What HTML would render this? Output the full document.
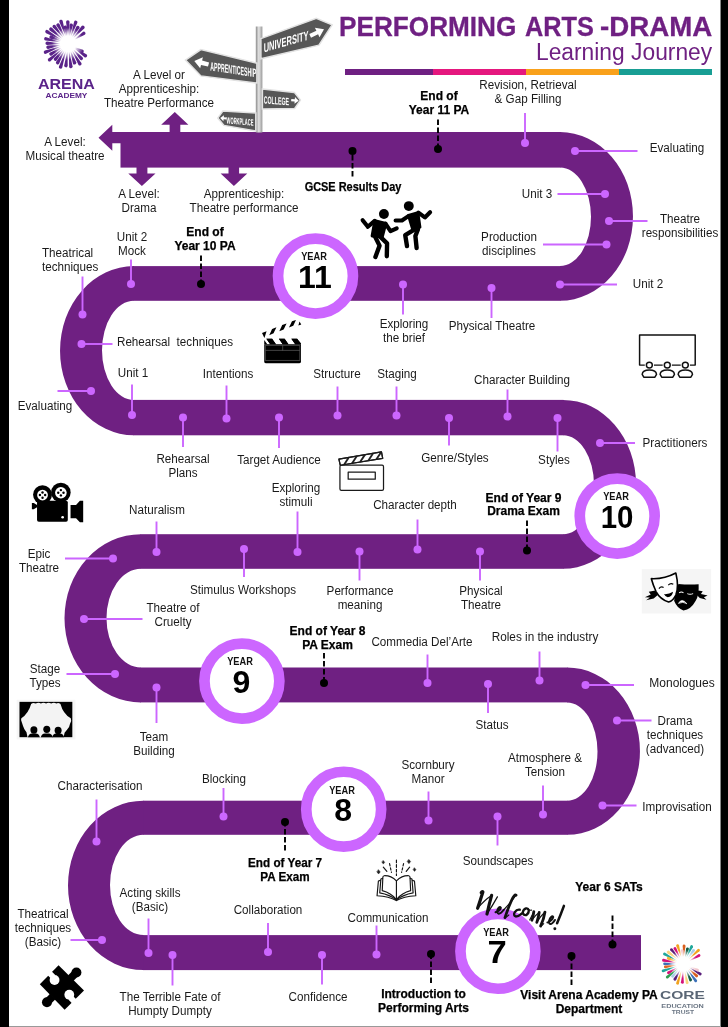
<!DOCTYPE html>
<html><head><meta charset="utf-8"><title>Performing Arts - Drama Learning Journey</title>
<style>
html,body{margin:0;padding:0;background:#fff;}
body{width:728px;height:1027px;position:relative;overflow:hidden;will-change:transform;font-family:"Liberation Sans",sans-serif;}
#lb{position:absolute;left:0;top:0;width:9px;height:1027px;background:#000;}
#rb{position:absolute;left:721px;top:0;width:7px;height:1027px;background:#000;}
#rbg{position:absolute;left:720px;top:0;width:1px;height:1027px;background:#888;}
#bb{position:absolute;left:9px;top:1025.5px;width:712px;height:1.5px;background:#999;}
svg#main{position:absolute;left:0;top:0;}
.l{position:absolute;width:200px;text-align:center;font-size:12px;line-height:14px;color:#1a1a1a;white-space:nowrap;transform:scaleX(0.972);}
.l.b{font-weight:bold;font-size:12px;line-height:13.9px;color:#000;transform:scaleX(1.0);-webkit-text-stroke:0.25px #000;}
.yr{position:absolute;width:80px;text-align:center;font-weight:bold;font-size:10.5px;line-height:12px;color:#111;transform:scaleX(0.88);}
.yn{position:absolute;width:80px;text-align:center;font-weight:bold;font-size:32px;line-height:30px;color:#000;transform:scaleX(1.02);}
.t1{position:absolute;top:11.2px;font-weight:bold;font-size:27.5px;line-height:32px;color:#6F2082;white-space:nowrap;transform-origin:0 0;-webkit-text-stroke:0.3px #6F2082;}
#t2{position:absolute;left:536.1px;top:37.6px;font-size:23.5px;line-height:28px;color:#6F2082;white-space:nowrap;transform-origin:0 0;transform:scaleX(0.970);}
.bar{position:absolute;top:69.3px;height:5.9px;}
</style></head><body>
<div id="lb"></div><div id="rbg"></div><div id="rb"></div><div id="bb"></div>
<div class="t1" style="left:338.5px;transform:scaleX(0.9514)">PERFORMING</div><div class="t1" style="left:525px;transform:scaleX(0.92)">ARTS</div><div class="t1" style="left:600.2px;transform:scaleX(1.007)">-DRAMA</div>
<div id="t2">Learning Journey</div>
<div class="bar" style="left:345px;width:88px;background:#6F2082"></div>
<div class="bar" style="left:433px;width:92.7px;background:#E5177E"></div>
<div class="bar" style="left:525.7px;width:93.3px;background:#F9A11B"></div>
<div class="bar" style="left:619px;width:92.5px;background:#189E94"></div>
<svg id="main" width="728" height="1027" viewBox="0 0 728 1027">
<!--ICONS_BELOW-->
<g fill="#6F2082"><rect x="120.5" y="132" width="440" height="35.599999999999994"/><rect x="133.5" y="266.1" width="427" height="34.69999999999999"/><rect x="133.5" y="399.9" width="430" height="35.400000000000034"/><rect x="140.5" y="534.2" width="423" height="34.59999999999991"/><rect x="140.5" y="667.5" width="427" height="34.89999999999998"/><rect x="143.0" y="800.7" width="424.5" height="34.09999999999991"/><rect x="143.0" y="935.1" width="498.0" height="35.0"/><path d="M560,132 A73,84.4 0 0 1 560,300.8 L560,266.1 A31,49.250000000000014 0 0 0 560,167.6 Z"/><path d="M134,266.1 A74,84.6 0 0 0 134,435.3 L134,399.9 A32,49.54999999999998 0 0 1 134,300.8 Z"/><path d="M563,399.9 A73,84.44999999999999 0 0 1 563,568.8 L563,534.2 A31,49.45000000000002 0 0 0 563,435.3 Z"/><path d="M141,534.2 A76.5,84.09999999999997 0 0 0 141,702.4 L141,667.5 A34.5,49.35000000000002 0 0 1 141,568.8 Z"/><path d="M567,667.5 A73,83.64999999999998 0 0 1 567,834.8 L567,800.7 A30.5,49.150000000000034 0 0 0 567,702.4 Z"/><path d="M143.5,800.7 A75.5,84.69999999999999 0 0 0 143.5,970.1 L143.5,935.1 A33.5,50.150000000000034 0 0 1 143.5,834.8 Z"/><polygon points="98.5,137.7 112.3,124.7 112.3,132 121,132 121,143.3 112.3,143.3 112.3,150.7"/><polygon points="174.8,112 188.4,124.7 180.3,124.7 180.3,133 169.6,133 169.6,124.7 161.2,124.7"/><polygon points="141.9,186 155.5,173.4 147.4,173.4 147.4,166 136.5,166 136.5,173.4 128.3,173.4"/><polygon points="233.9,186 247.3,173.4 239.1,173.4 239.1,166 228.5,166 228.5,173.4 220.6,173.4"/></g>
<line x1="352.5" y1="176.5" x2="352.5" y2="151.0" stroke="#000" stroke-width="1.9" stroke-dasharray="5.5 2.5"/><circle cx="352.5" cy="151.0" r="4" fill="#000"/><line x1="438" y1="119.5" x2="438" y2="149.0" stroke="#000" stroke-width="1.9" stroke-dasharray="5.5 2.5"/><circle cx="438" cy="149.0" r="4" fill="#000"/><line x1="525" y1="143.0" x2="525" y2="113.0" stroke="#CC66FF" stroke-width="1.9"/><circle cx="525" cy="143.0" r="4" fill="#CC66FF"/><line x1="575" y1="151.0" x2="637.5" y2="151.0" stroke="#CC66FF" stroke-width="1.9"/><circle cx="575" cy="151.0" r="4" fill="#CC66FF"/><line x1="605" y1="194.0" x2="557.5" y2="194.0" stroke="#CC66FF" stroke-width="1.9"/><circle cx="605" cy="194.0" r="4" fill="#CC66FF"/><line x1="609" y1="221.0" x2="647.5" y2="221.0" stroke="#CC66FF" stroke-width="1.9"/><circle cx="609" cy="221.0" r="4" fill="#CC66FF"/><line x1="606.5" y1="244.5" x2="543" y2="244.5" stroke="#CC66FF" stroke-width="1.9"/><circle cx="606.5" cy="244.5" r="4" fill="#CC66FF"/><line x1="560" y1="284.5" x2="617" y2="284.5" stroke="#CC66FF" stroke-width="1.9"/><circle cx="560" cy="284.5" r="4" fill="#CC66FF"/><line x1="491.5" y1="288.0" x2="491.5" y2="318.0" stroke="#CC66FF" stroke-width="1.9"/><circle cx="491.5" cy="288.0" r="4" fill="#CC66FF"/><line x1="403" y1="284.5" x2="403" y2="314.5" stroke="#CC66FF" stroke-width="1.9"/><circle cx="403" cy="284.5" r="4" fill="#CC66FF"/><line x1="201" y1="255.5" x2="201" y2="284.0" stroke="#000" stroke-width="1.9" stroke-dasharray="5.5 2.5"/><circle cx="201" cy="284.0" r="4" fill="#000"/><line x1="131" y1="284.0" x2="131" y2="259.5" stroke="#CC66FF" stroke-width="1.9"/><circle cx="131" cy="284.0" r="4" fill="#CC66FF"/><line x1="82.5" y1="314.5" x2="82.5" y2="276.5" stroke="#CC66FF" stroke-width="1.9"/><circle cx="82.5" cy="314.5" r="4" fill="#CC66FF"/><line x1="81.5" y1="344.0" x2="112.5" y2="344.0" stroke="#CC66FF" stroke-width="1.9"/><circle cx="81.5" cy="344.0" r="4" fill="#CC66FF"/><line x1="91" y1="391.0" x2="57.5" y2="391.0" stroke="#CC66FF" stroke-width="1.9"/><circle cx="91" cy="391.0" r="4" fill="#CC66FF"/><line x1="132" y1="415.0" x2="132" y2="384.5" stroke="#CC66FF" stroke-width="1.9"/><circle cx="132" cy="415.0" r="4" fill="#CC66FF"/><line x1="183" y1="417.5" x2="183" y2="447.0" stroke="#CC66FF" stroke-width="1.9"/><circle cx="183" cy="417.5" r="4" fill="#CC66FF"/><line x1="226.5" y1="418.5" x2="226.5" y2="385.5" stroke="#CC66FF" stroke-width="1.9"/><circle cx="226.5" cy="418.5" r="4" fill="#CC66FF"/><line x1="279" y1="417.5" x2="279" y2="448.0" stroke="#CC66FF" stroke-width="1.9"/><circle cx="279" cy="417.5" r="4" fill="#CC66FF"/><line x1="337.5" y1="415.5" x2="337.5" y2="386.5" stroke="#CC66FF" stroke-width="1.9"/><circle cx="337.5" cy="415.5" r="4" fill="#CC66FF"/><line x1="396.5" y1="415.5" x2="396.5" y2="386.5" stroke="#CC66FF" stroke-width="1.9"/><circle cx="396.5" cy="415.5" r="4" fill="#CC66FF"/><line x1="449" y1="418.0" x2="449" y2="445.5" stroke="#CC66FF" stroke-width="1.9"/><circle cx="449" cy="418.0" r="4" fill="#CC66FF"/><line x1="507.5" y1="416.5" x2="507.5" y2="389.5" stroke="#CC66FF" stroke-width="1.9"/><circle cx="507.5" cy="416.5" r="4" fill="#CC66FF"/><line x1="557.5" y1="418.0" x2="557.5" y2="451.5" stroke="#CC66FF" stroke-width="1.9"/><circle cx="557.5" cy="418.0" r="4" fill="#CC66FF"/><line x1="600" y1="443.0" x2="635" y2="443.0" stroke="#CC66FF" stroke-width="1.9"/><circle cx="600" cy="443.0" r="4" fill="#CC66FF"/><line x1="527" y1="520.5" x2="527" y2="550.5" stroke="#000" stroke-width="1.9" stroke-dasharray="5.5 2.5"/><circle cx="527" cy="550.5" r="4" fill="#000"/><line x1="480" y1="551.5" x2="480" y2="580.5" stroke="#CC66FF" stroke-width="1.9"/><circle cx="480" cy="551.5" r="4" fill="#CC66FF"/><line x1="417.5" y1="549.5" x2="417.5" y2="519.5" stroke="#CC66FF" stroke-width="1.9"/><circle cx="417.5" cy="549.5" r="4" fill="#CC66FF"/><line x1="359.5" y1="551.5" x2="359.5" y2="580.5" stroke="#CC66FF" stroke-width="1.9"/><circle cx="359.5" cy="551.5" r="4" fill="#CC66FF"/><line x1="297.5" y1="552.0" x2="297.5" y2="511.5" stroke="#CC66FF" stroke-width="1.9"/><circle cx="297.5" cy="552.0" r="4" fill="#CC66FF"/><line x1="244" y1="549.0" x2="244" y2="577.0" stroke="#CC66FF" stroke-width="1.9"/><circle cx="244" cy="549.0" r="4" fill="#CC66FF"/><line x1="156.5" y1="552.0" x2="156.5" y2="521.5" stroke="#CC66FF" stroke-width="1.9"/><circle cx="156.5" cy="552.0" r="4" fill="#CC66FF"/><line x1="113" y1="558.5" x2="65" y2="558.5" stroke="#CC66FF" stroke-width="1.9"/><circle cx="113" cy="558.5" r="4" fill="#CC66FF"/><line x1="84" y1="619.0" x2="142.5" y2="619.0" stroke="#CC66FF" stroke-width="1.9"/><circle cx="84" cy="619.0" r="4" fill="#CC66FF"/><line x1="115" y1="674.0" x2="66.5" y2="674.0" stroke="#CC66FF" stroke-width="1.9"/><circle cx="115" cy="674.0" r="4" fill="#CC66FF"/><line x1="156.5" y1="687.5" x2="156.5" y2="723.0" stroke="#CC66FF" stroke-width="1.9"/><circle cx="156.5" cy="687.5" r="4" fill="#CC66FF"/><line x1="324" y1="653.0" x2="324" y2="683.0" stroke="#000" stroke-width="1.9" stroke-dasharray="5.5 2.5"/><circle cx="324" cy="683.0" r="4" fill="#000"/><line x1="427.5" y1="683.0" x2="427.5" y2="654.5" stroke="#CC66FF" stroke-width="1.9"/><circle cx="427.5" cy="683.0" r="4" fill="#CC66FF"/><line x1="488" y1="684.0" x2="488" y2="713.0" stroke="#CC66FF" stroke-width="1.9"/><circle cx="488" cy="684.0" r="4" fill="#CC66FF"/><line x1="539.5" y1="680.5" x2="539.5" y2="651.5" stroke="#CC66FF" stroke-width="1.9"/><circle cx="539.5" cy="680.5" r="4" fill="#CC66FF"/><line x1="585.5" y1="685.0" x2="634" y2="685.0" stroke="#CC66FF" stroke-width="1.9"/><circle cx="585.5" cy="685.0" r="4" fill="#CC66FF"/><line x1="617" y1="720.5" x2="651.5" y2="720.5" stroke="#CC66FF" stroke-width="1.9"/><circle cx="617" cy="720.5" r="4" fill="#CC66FF"/><line x1="602.5" y1="805.5" x2="636.5" y2="805.5" stroke="#CC66FF" stroke-width="1.9"/><circle cx="602.5" cy="805.5" r="4" fill="#CC66FF"/><line x1="543" y1="814.5" x2="543" y2="785.5" stroke="#CC66FF" stroke-width="1.9"/><circle cx="543" cy="814.5" r="4" fill="#CC66FF"/><line x1="497.5" y1="816.5" x2="497.5" y2="845.5" stroke="#CC66FF" stroke-width="1.9"/><circle cx="497.5" cy="816.5" r="4" fill="#CC66FF"/><line x1="428.5" y1="820.5" x2="428.5" y2="791.5" stroke="#CC66FF" stroke-width="1.9"/><circle cx="428.5" cy="820.5" r="4" fill="#CC66FF"/><line x1="285" y1="850.5" x2="285" y2="822.0" stroke="#000" stroke-width="1.9" stroke-dasharray="5.5 2.5"/><circle cx="285" cy="822.0" r="4" fill="#000"/><line x1="223.5" y1="816.5" x2="223.5" y2="788.0" stroke="#CC66FF" stroke-width="1.9"/><circle cx="223.5" cy="816.5" r="4" fill="#CC66FF"/><line x1="96.5" y1="841.5" x2="96.5" y2="799.5" stroke="#CC66FF" stroke-width="1.9"/><circle cx="96.5" cy="841.5" r="4" fill="#CC66FF"/><line x1="102" y1="940.0" x2="70.5" y2="940.0" stroke="#CC66FF" stroke-width="1.9"/><circle cx="102" cy="940.0" r="4" fill="#CC66FF"/><line x1="148.5" y1="953.0" x2="148.5" y2="918.5" stroke="#CC66FF" stroke-width="1.9"/><circle cx="148.5" cy="953.0" r="4" fill="#CC66FF"/><line x1="172.5" y1="955.0" x2="172.5" y2="985.5" stroke="#CC66FF" stroke-width="1.9"/><circle cx="172.5" cy="955.0" r="4" fill="#CC66FF"/><line x1="268" y1="952.0" x2="268" y2="923.0" stroke="#CC66FF" stroke-width="1.9"/><circle cx="268" cy="952.0" r="4" fill="#CC66FF"/><line x1="322" y1="955.0" x2="322" y2="984.5" stroke="#CC66FF" stroke-width="1.9"/><circle cx="322" cy="955.0" r="4" fill="#CC66FF"/><line x1="376.5" y1="954.5" x2="376.5" y2="925.5" stroke="#CC66FF" stroke-width="1.9"/><circle cx="376.5" cy="954.5" r="4" fill="#CC66FF"/><line x1="431" y1="983.0" x2="431" y2="954.0" stroke="#000" stroke-width="1.9" stroke-dasharray="5.5 2.5"/><circle cx="431" cy="954.0" r="4" fill="#000"/><line x1="571.5" y1="985.0" x2="571.5" y2="956.0" stroke="#000" stroke-width="1.9" stroke-dasharray="5.5 2.5"/><circle cx="571.5" cy="956.0" r="4" fill="#000"/><line x1="612.5" y1="915.5" x2="612.5" y2="944.5" stroke="#000" stroke-width="1.9" stroke-dasharray="5.5 2.5"/><circle cx="612.5" cy="944.5" r="4" fill="#000"/>
<circle cx="315.5" cy="276.1" r="37.45" fill="#fff" stroke="#CC66FF" stroke-width="10.7"/><circle cx="617.2" cy="516.1" r="37.45" fill="#fff" stroke="#CC66FF" stroke-width="10.7"/><circle cx="241.9" cy="681.1" r="37.45" fill="#fff" stroke="#CC66FF" stroke-width="10.7"/><circle cx="343.7" cy="809.2" r="37.45" fill="#fff" stroke="#CC66FF" stroke-width="10.7"/><circle cx="497.9" cy="951.3" r="37.45" fill="#fff" stroke="#CC66FF" stroke-width="10.7"/>
<!--ICONS_ABOVE-->
<defs><linearGradient id="pole" x1="0" x2="1" y1="0" y2="0"><stop offset="0" stop-color="#8a8a8a"/><stop offset="0.45" stop-color="#e4e4e4"/><stop offset="1" stop-color="#9a9a9a"/></linearGradient></defs>
<g id="signpost">
<rect x="255.8" y="26.5" width="6.6" height="106" fill="url(#pole)"/>
<polygon points="260.9,38.6 316.3,18.4 332.1,24.9 318.9,45.2 260.9,58.8" fill="#575757" stroke="#e2e2e2" stroke-width="1.5"/>
<polygon points="185.5,60.1 200.9,49.6 256.9,63.2 256.9,83.0 200.9,75.9" fill="#575757" stroke="#e2e2e2" stroke-width="1.5"/>
<polygon points="262.4,89.1 294.3,92.4 300.4,100.1 294.7,108.5 262.4,108.9" fill="#575757" stroke="#e2e2e2" stroke-width="1.5"/>
<polygon points="217.8,118.1 222.9,111.1 255.8,112.9 255.8,130.9 224.0,125.4" fill="#575757" stroke="#e2e2e2" stroke-width="1.5"/>
<text transform="translate(263.7,52.4) skewY(-16) scale(0.585,1)" font-family="Liberation Sans, sans-serif" font-weight="bold" font-size="12.8" fill="#fff">UNIVERSITY</text>
<polygon points="311.0,37.7 318.1,34.3 319.5,37.3 324.0,29.3 314.9,27.8 316.4,30.8 309.3,34.1" fill="#fff"/>
<text transform="translate(210.3,70.4) skewY(8.5) scale(0.43,1)" font-family="Liberation Sans, sans-serif" font-weight="bold" font-size="12.2" fill="#fff">APPRENTICESHIP</text>
<polygon points="209.1,62.4 202.1,60.6 202.9,57.2 194.3,61.0 200.2,68.3 201.0,64.9 208.0,66.6" fill="#fff"/>
<text transform="translate(263.7,103.4) skewY(4) scale(0.5,1)" font-family="Liberation Sans, sans-serif" font-weight="bold" font-size="10.5" fill="#fff">COLLEGE</text>
<polygon points="291.1,101.2 294.6,101.5 294.5,103.7 298.7,100.8 295.0,97.1 294.8,99.3 291.3,99.0" fill="#fff"/>
<text transform="translate(226.6,123.4) skewY(5) scale(0.445,1)" font-family="Liberation Sans, sans-serif" font-weight="bold" font-size="9.2" fill="#fff">WORKPLACE</text>
<polygon points="226.7,117.6 223.8,117.3 224.0,115.2 220.2,117.9 223.4,121.3 223.6,119.3 226.5,119.6" fill="#fff"/>
</g>
<defs><radialGradient id="ag" gradientUnits="userSpaceOnUse" cx="68.2" cy="43.8" r="26"><stop offset="0.3" stop-color="#fff" stop-opacity="1"/><stop offset="0.62" stop-color="#fff" stop-opacity="0"/></radialGradient></defs><g><path d="M73.19,40.47 L84.76,34.86 A1.75,1.75 0 0 0 82.82,31.95 Z" fill="#5A2389"/><path d="M72.18,39.31 L84.22,28.40 A1.75,1.75 0 0 0 81.60,26.07 Z" fill="#5A2389"/><path d="M71.25,38.64 L79.37,28.35 A1.75,1.75 0 0 0 76.36,26.57 Z" fill="#5A2389"/><path d="M70.18,38.14 L77.39,22.86 A1.75,1.75 0 0 0 74.09,21.70 Z" fill="#5A2389"/><path d="M69.15,37.88 L72.90,25.49 A1.75,1.75 0 0 0 69.45,24.94 Z" fill="#5A2389"/><path d="M68.10,37.80 L69.57,21.95 A1.75,1.75 0 0 0 66.07,22.01 Z" fill="#5A2389"/><path d="M67.16,37.89 L67.01,26.96 A1.75,1.75 0 0 0 63.56,27.57 Z" fill="#5A2389"/><path d="M66.37,38.09 L62.70,20.93 A1.75,1.75 0 0 0 59.36,22.00 Z" fill="#5A2389"/><path d="M65.35,38.52 L59.59,24.20 A1.75,1.75 0 0 0 56.51,25.86 Z" fill="#5A2389"/><path d="M64.44,39.12 L55.63,25.38 A1.75,1.75 0 0 0 52.90,27.57 Z" fill="#5A2389"/><path d="M63.62,39.92 L52.00,27.77 A1.75,1.75 0 0 0 49.74,30.44 Z" fill="#5A2389"/><path d="M62.99,40.83 L47.85,30.18 A1.75,1.75 0 0 0 46.11,33.22 Z" fill="#5A2389"/><path d="M62.61,41.61 L51.77,35.48 A1.75,1.75 0 0 0 50.49,38.74 Z" fill="#5A2389"/><path d="M62.34,42.51 L46.30,37.19 A1.75,1.75 0 0 0 45.55,40.61 Z" fill="#5A2389"/><path d="M62.20,43.65 L47.23,41.54 A1.75,1.75 0 0 0 47.15,45.04 Z" fill="#5A2389"/><path d="M62.28,44.79 L47.67,45.46 A1.75,1.75 0 0 0 48.24,48.91 Z" fill="#5A2389"/><path d="M62.57,45.86 L44.81,50.50 A1.75,1.75 0 0 0 46.01,53.78 Z" fill="#5A2389"/><path d="M63.02,46.84 L50.10,52.39 A1.75,1.75 0 0 0 51.87,55.41 Z" fill="#5A2389"/><path d="M63.64,47.70 L48.45,58.42 A1.75,1.75 0 0 0 50.73,61.08 Z" fill="#5A2389"/><path d="M64.37,48.42 L54.16,57.97 A1.75,1.75 0 0 0 56.85,60.21 Z" fill="#5A2389"/><path d="M65.27,49.04 L56.14,61.79 A1.75,1.75 0 0 0 59.20,63.49 Z" fill="#5A2389"/><path d="M66.33,49.50 L58.93,66.38 A1.75,1.75 0 0 0 62.26,67.48 Z" fill="#5A2389"/><path d="M67.58,49.77 L64.20,65.49 A1.75,1.75 0 0 0 67.68,65.85 Z" fill="#5A2389"/><path d="M68.90,49.76 L69.12,66.65 A1.75,1.75 0 0 0 72.60,66.24 Z" fill="#5A2389"/><path d="M70.09,49.49 L72.89,63.44 A1.75,1.75 0 0 0 76.21,62.34 Z" fill="#5A2389"/><path d="M71.23,48.98 L78.40,64.72 A1.75,1.75 0 0 0 81.42,62.96 Z" fill="#5A2389"/><path d="M72.21,48.27 L79.95,59.52 A1.75,1.75 0 0 0 82.56,57.18 Z" fill="#5A2389"/><path d="M73.13,47.22 L84.46,57.23 A1.75,1.75 0 0 0 86.45,54.36 Z" fill="#5A2389"/><path d="M73.47,46.66 L81.26,52.88 A1.75,1.75 0 0 0 82.93,49.81 Z" fill="#5A2389"/><circle cx="68.2" cy="43.8" r="26" fill="url(#ag)"/></g>
<text x="66.4" y="89.3" text-anchor="middle" font-family="Liberation Sans, sans-serif" font-weight="bold" font-size="14" fill="#5A2389" textLength="57" lengthAdjust="spacingAndGlyphs">ARENA</text>
<text x="66.4" y="98.4" text-anchor="middle" font-family="Liberation Sans, sans-serif" font-weight="bold" font-size="6.5" fill="#5A2389" textLength="42" lengthAdjust="spacingAndGlyphs">ACADEMY</text>
<g transform="translate(350,190) scale(0.13736)" fill="none" stroke="#000" stroke-linecap="round" stroke-linejoin="round"><circle cx="247" cy="175" r="36" fill="#000" stroke="none"/><path d="M180,222 L262,242 L235,345 L160,335 Z" fill="#000" stroke="#000" stroke-width="20"/><path d="M180,225 L130,268 L92,220" stroke-width="30"/><path d="M258,245 L295,300 L340,280" stroke-width="30"/><path d="M185,345 L215,405 L185,488" stroke-width="32"/><path d="M225,345 L270,388 L268,482" stroke-width="32"/><circle cx="428" cy="117" r="36" fill="#000" stroke="none"/><path d="M425,185 L495,165 L510,270 L455,285 Z" fill="#000" stroke="#000" stroke-width="20"/><path d="M425,190 L378,222 L332,222" stroke-width="30"/><path d="M498,165 L545,200 L583,162" stroke-width="30"/><path d="M465,290 L402,328 L415,408" stroke-width="32"/><path d="M495,285 L476,335 L485,422" stroke-width="32"/></g>
<g transform="translate(250,310) scale(0.096154)"><path d="M148,355 H530 V535 Q530,555 510,555 H168 Q148,555 148,535 Z" fill="#000"/><path d="M160,368 H518 V420 H160 Z M160,420 V525 H518 V420 M340,368 V420" fill="none" stroke="#8a8a8a" stroke-width="5"/><path d="M148,310 L148,355 L530,355 L490,300 L430,300 L470,355 L400,355 L360,300 L300,300 L340,355 L270,355 L230,300 L170,300 L210,355 L148,355 Z" fill="#000"/><path d="M430,300 L490,300 L530,345 L530,355 L470,355 Z M300,300 L360,300 L400,355 L340,355 Z M170,300 L230,300 L270,355 L210,355 Z M148,312 L180,355 L148,355 Z" fill="#000"/><path d="M125,240 L172,222 L150,290 Z" fill="#000"/><path d="M230,197 L275,180 L245,243 L200,262 Z" fill="#000"/><path d="M335,157 L380,140 L350,203 L305,222 Z" fill="#000"/><path d="M437,118 L478,103 L450,165 L405,183 Z" fill="#000"/><path d="M515,120 L533,150 L503,160 Z" fill="#000"/></g>
<g transform="translate(625,320) scale(0.12361)" fill="none" stroke="#111" stroke-width="12" stroke-linejoin="round"><path d="M160,365 H118 V122 H568 V365 H525 M234,365 H305 M379,365 H451"/><circle cx="197" cy="365" r="24" fill="#fff"/><path d="M139,440 Q142,405 197,405 Q252,405 255,440 L242,463 H152 Z" fill="#fff"/><circle cx="342" cy="365" r="24" fill="#fff"/><path d="M284,440 Q287,405 342,405 Q397,405 400,440 L387,463 H297 Z" fill="#fff"/><circle cx="488" cy="365" r="24" fill="#fff"/><path d="M430,440 Q433,405 488,405 Q543,405 546,440 L533,463 H443 Z" fill="#fff"/></g>
<g transform="translate(325,440) scale(0.10302)" fill="none" stroke="#1a1a1a" stroke-width="12" stroke-linejoin="round"><rect x="145" y="245" width="423" height="245" rx="14" fill="#fff"/><rect x="225" y="312" width="263" height="68"/><path d="M135,185 L548,115 L560,178 L148,245 Z" fill="#fff"/><path d="M185,240 L232,168" stroke-width="18" stroke="#222"/><path d="M262,227 L309,155" stroke-width="18" stroke="#222"/><path d="M341,214 L388,142" stroke-width="18" stroke="#222"/><path d="M420,201 L467,129" stroke-width="18" stroke="#222"/><path d="M499,188 L546,116" stroke-width="18" stroke="#222"/><path d="M135,185 L548,115 L560,178 L148,245 Z" fill="none"/></g>
<g transform="translate(20,470) scale(0.10989)" fill="#000"><rect x="155" y="280" width="280" height="192" rx="16"/><path d="M460,318 H510 L545,280 H575 V475 H545 L510,438 H460 Z"/><path d="M108,300 L125,300 L155,318 V340 L125,358 H108 Z"/><circle cx="205" cy="225" r="86"/><circle cx="205" cy="228" r="49" fill="#fff"/><circle cx="372" cy="205" r="89"/><circle cx="372" cy="207" r="53" fill="#fff"/><circle cx="205" cy="204" r="11"/><circle cx="205" cy="252" r="11"/><circle cx="181" cy="228" r="11"/><circle cx="229" cy="228" r="11"/><circle cx="372" cy="183" r="11"/><circle cx="372" cy="231" r="11"/><circle cx="348" cy="207" r="11"/><circle cx="396" cy="207" r="11"/><circle cx="388" cy="430" r="12" fill="#fff"/></g>
<g transform="translate(635,560) scale(0.11675)"><rect x="58" y="78" width="594" height="380" fill="#f5f5f5"/><path d="M175,262 L118,272 L135,295 L85,318 L128,322 L95,345 L160,330 L195,300 Z" fill="#000"/><path d="M540,262 L580,268 L565,292 L622,305 L590,318 L612,340 L555,325 L530,300 Z" fill="#000"/><path d="M372,205 Q460,215 545,208 Q550,300 520,350 Q480,425 415,432 Q360,415 335,350 Q345,270 372,205 Z" fill="#000"/><path d="M378,282 Q395,268 415,280" fill="none" stroke="#fff" stroke-width="9"/><path d="M448,288 Q470,300 498,288" fill="none" stroke="#fff" stroke-width="9"/><path d="M372,372 Q400,320 445,375 Q410,352 372,372 Z" fill="#fff" stroke="#fff" stroke-width="6" stroke-linejoin="round"/><path d="M140,160 Q250,165 350,112 Q378,230 350,300 Q325,350 288,360 Q215,335 180,270 Q155,215 140,160 Z" fill="#fff" stroke="#000" stroke-width="14" stroke-linejoin="round"/><path d="M205,245 Q222,222 245,235" fill="none" stroke="#000" stroke-width="10"/><path d="M285,215 Q305,195 328,208" fill="none" stroke="#000" stroke-width="10"/><path d="M248,292 Q290,295 326,272 Q318,318 280,318 Q258,315 248,292 Z" fill="#000"/></g>
<g transform="translate(10,690) scale(0.10302)"><rect x="65" y="95" width="570" height="385" fill="#f6f6f6"/><rect x="92" y="115" width="513" height="343" fill="#000"/><path d="M205,135 Q225,118 250,132 Q275,116 300,130 Q325,116 350,130 Q375,116 400,130 Q425,116 450,130 Q470,120 490,135 Q515,230 590,275 Q602,300 582,330 Q578,360 557,380 L530,415 L520,458 L170,458 L160,410 L140,380 Q125,350 117,320 Q100,295 110,275 Q180,225 205,135 Z" fill="#f3f3f3"/><ellipse cx="232" cy="388" rx="34" ry="36" fill="#000"/><path d="M174,458 Q182,425 214,422 L250,422 Q282,425 290,458 Z" fill="#000"/><ellipse cx="357" cy="382" rx="34" ry="36" fill="#000"/><path d="M299,458 Q307,425 339,422 L375,422 Q407,425 415,458 Z" fill="#000"/><ellipse cx="467" cy="392" rx="34" ry="36" fill="#000"/><path d="M409,458 Q417,425 449,422 L485,422 Q517,425 525,458 Z" fill="#000"/></g>
<g transform="translate(365,850) scale(0.089286)" fill="none" stroke="#151515" stroke-width="13" stroke-linecap="round" stroke-linejoin="round"><path d="M352,345 Q414,285 489,288 Q504,290 504,305 L511,455 Q414,480 352,555" fill="#fff"/><path d="M508,318 L526,325 L539,480 Q424,500 352,560"/><path d="M532,340 L554,348 L569,512 Q434,520 352,566"/><path d="M352,345 Q290,285 215,288 Q200,290 200,305 L193,455 Q290,480 352,555" fill="#fff"/><path d="M196,318 L178,325 L165,480 Q280,500 352,560"/><path d="M172,340 L150,348 L135,512 Q270,520 352,566"/><path d="M352,345 V555"/><path d="M352,112 V285" stroke-dasharray="30 22"/><path d="M275,152 L296,250" stroke-dasharray="26 22"/><path d="M432,152 L410,250" stroke-dasharray="26 22"/><path d="M205,192 L245,240 M500,192 L462,240"/><path d="M205,118 L221.0,138 L205,158 L189.0,138 Z" fill="#222" stroke-width="4"/><path d="M152,221 L171.2,245 L152,269 L132.8,245 Z" fill="#222" stroke-width="4"/><path d="M492,106 L511.2,130 L492,154 L472.8,130 Z" fill="#222" stroke-width="4"/><path d="M555,200 L571.0,220 L555,240 L539.0,220 Z" fill="#222" stroke-width="4"/></g>
<g transform="translate(30,955) scale(0.089286)"><polygon points="320,115 605,398 388,612 110,328" fill="#000"/><circle cx="520" cy="195" r="56" fill="#000"/><path d="M425,230 L485,290 L535,240 L475,180 Z" fill="#000"/><circle cx="190" cy="530" r="56" fill="#000"/><path d="M285,495 L225,435 L175,485 L235,545 Z" fill="#000"/><circle cx="275" cy="280" r="55" fill="#fff"/><path d="M238,178 L283,225 L240,268 L193,222 Z" fill="#fff"/><circle cx="440" cy="445" r="55" fill="#fff"/><path d="M478,548 L432,500 L478,455 L524,502 Z" fill="#fff"/></g>
<defs><radialGradient id="cg" gradientUnits="userSpaceOnUse" cx="683.4" cy="964.0" r="26"><stop offset="0.26" stop-color="#fff" stop-opacity="1"/><stop offset="0.55" stop-color="#fff" stop-opacity="0"/></radialGradient></defs><g><path d="M688.67,961.14 L699.75,956.77 A1.45,1.45 0 0 0 698.36,954.23 Z" fill="#D4127A"/><path d="M687.84,959.96 L699.46,951.35 A1.45,1.45 0 0 0 697.50,949.21 Z" fill="#F2A31F"/><path d="M687.01,959.21 L694.75,951.35 A1.45,1.45 0 0 0 692.43,949.60 Z" fill="#A8CCE8"/><path d="M685.95,958.57 L692.92,947.17 A1.45,1.45 0 0 0 690.30,945.93 Z" fill="#1FA79B"/><path d="M684.95,958.20 L688.86,949.23 A1.45,1.45 0 0 0 686.06,948.48 Z" fill="#155C45"/><path d="M683.63,958.00 L685.54,946.03 A1.45,1.45 0 0 0 682.64,945.92 Z" fill="#D95F1E"/><path d="M682.80,958.03 L683.52,950.59 A1.45,1.45 0 0 0 680.63,950.88 Z" fill="#F3C5CC"/><path d="M681.60,958.28 L678.96,945.10 A1.45,1.45 0 0 0 676.20,945.97 Z" fill="#F2A31F"/><path d="M680.54,958.73 L676.17,947.65 A1.45,1.45 0 0 0 673.63,949.04 Z" fill="#D4127A"/><path d="M679.56,959.39 L672.59,948.76 A1.45,1.45 0 0 0 670.36,950.62 Z" fill="#5A1E7A"/><path d="M678.70,960.26 L669.27,950.91 A1.45,1.45 0 0 0 667.46,953.18 Z" fill="#F9D47C"/><path d="M678.09,961.20 L665.13,952.73 A1.45,1.45 0 0 0 663.78,955.29 Z" fill="#1FA79B"/><path d="M677.79,961.88 L668.76,956.92 A1.45,1.45 0 0 0 667.74,959.63 Z" fill="#F5B335"/><path d="M677.50,962.89 L663.78,958.82 A1.45,1.45 0 0 0 663.24,961.67 Z" fill="#D4127A"/><path d="M677.40,963.96 L664.64,962.42 A1.45,1.45 0 0 0 664.62,965.32 Z" fill="#3B6FB8"/><path d="M677.47,964.94 L665.14,965.42 A1.45,1.45 0 0 0 665.60,968.29 Z" fill="#E06A25"/><path d="M677.72,965.92 L662.65,969.49 A1.45,1.45 0 0 0 663.58,972.24 Z" fill="#1FA79B"/><path d="M678.21,967.02 L667.78,971.41 A1.45,1.45 0 0 0 669.24,973.92 Z" fill="#D4127A"/><path d="M678.74,967.78 L666.36,975.94 A1.45,1.45 0 0 0 668.18,978.19 Z" fill="#2E9E50"/><path d="M679.42,968.49 L671.51,975.20 A1.45,1.45 0 0 0 673.68,977.13 Z" fill="#A8CCE8"/><path d="M680.49,969.25 L673.67,978.56 A1.45,1.45 0 0 0 676.21,979.96 Z" fill="#5A1E7A"/><path d="M681.66,969.74 L676.17,982.80 A1.45,1.45 0 0 0 678.95,983.65 Z" fill="#F2A31F"/><path d="M683.07,969.99 L680.92,982.29 A1.45,1.45 0 0 0 683.82,982.46 Z" fill="#D4127A"/><path d="M684.58,969.88 L685.73,983.05 A1.45,1.45 0 0 0 688.57,982.48 Z" fill="#F9D47C"/><path d="M685.85,969.48 L689.20,980.52 A1.45,1.45 0 0 0 691.85,979.33 Z" fill="#155C45"/><path d="M686.95,968.84 L694.61,981.70 A1.45,1.45 0 0 0 696.94,979.99 Z" fill="#3B6FB8"/><path d="M687.87,968.01 L695.69,976.98 A1.45,1.45 0 0 0 697.63,974.82 Z" fill="#D95F1E"/><path d="M688.56,967.05 L699.45,975.18 A1.45,1.45 0 0 0 700.93,972.68 Z" fill="#5A1E7A"/><path d="M688.91,966.36 L696.91,971.37 A1.45,1.45 0 0 0 698.05,968.70 Z" fill="#F3C5CC"/><circle cx="683.4" cy="964.0" r="26" fill="url(#cg)"/></g>
<text x="682.4" y="999.3" text-anchor="middle" font-family="Liberation Sans, sans-serif" font-weight="bold" font-size="11.2" fill="#5a6675" textLength="45" lengthAdjust="spacingAndGlyphs">CORE</text>
<text x="682.6" y="1007.7" text-anchor="middle" font-family="Liberation Sans, sans-serif" font-weight="bold" font-size="4.9" fill="#6b7684" textLength="42.5" lengthAdjust="spacingAndGlyphs">EDUCATION</text>
<text x="682.9" y="1013.6" text-anchor="middle" font-family="Liberation Sans, sans-serif" font-weight="bold" font-size="4.9" fill="#6b7684" textLength="22.2" lengthAdjust="spacingAndGlyphs">TRUST</text>
<g transform="translate(472,886) scale(0.08244)" fill="none" stroke="#111" stroke-linecap="round" stroke-linejoin="round"><path d="M112,80 Q125,62 132,72 Q100,175 68,270" stroke-width="39"/><path d="M68,270 Q150,170 238,114" stroke-width="15"/><path d="M238,114 Q205,230 182,340" stroke-width="39"/><path d="M182,340 Q250,235 308,132" stroke-width="15"/><path d="M285,318 Q345,298 350,264 Q335,242 312,282 Q293,325 325,336 Q352,334 386,288" stroke-width="24"/><path d="M386,288 Q480,190 534,112" stroke-width="14"/><path d="M534,112 Q515,98 482,170 Q430,285 400,384" stroke-width="34"/><path d="M400,384 Q420,378 446,352" stroke-width="14"/><path d="M580,288 Q545,280 518,318 Q498,356 532,370 Q562,370 602,334" stroke-width="28"/><path d="M655,272 Q620,285 615,325 Q625,360 660,352 Q692,330 688,292 Q680,266 655,272" stroke-width="28"/><path d="M672,274 Q690,300 722,292" stroke-width="14"/><path d="M700,411 Q730,350 750,311" stroke-width="14"/><path d="M750,311 Q745,360 726,416" stroke-width="34"/><path d="M726,416 Q770,350 815,321" stroke-width="14"/><path d="M815,321 Q806,380 786,441" stroke-width="34"/><path d="M786,441 Q835,360 885,316" stroke-width="14"/><path d="M885,316 Q872,400 832,486" stroke-width="34"/><path d="M832,486 Q850,480 870,456" stroke-width="13"/><path d="M915,441 Q975,420 985,376 Q972,355 945,396 Q920,450 950,462 Q975,460 1006,412" stroke-width="25"/><path d="M1115,241 Q1075,350 1032,452" stroke-width="31"/><circle cx="1005" cy="519" r="18" fill="#111" stroke="none"/></g>
</svg>
<div class="l" style="left:59.00px;top:68.00px">A Level or<br>Apprenticeship:<br>Theatre Performance</div>
<div class="l" style="left:-35.00px;top:135.00px">A Level:<br>Musical theatre</div>
<div class="l" style="left:38.50px;top:186.50px">A Level:<br>Drama</div>
<div class="l" style="left:143.50px;top:186.50px">Apprenticeship:<br>Theatre performance</div>
<div class="l b" style="left:252.50px;top:180.70px;transform:scaleX(0.912)">GCSE Results Day</div>
<div class="l b" style="left:339.00px;top:89.70px">End of<br>Year 11 PA</div>
<div class="l" style="left:427.50px;top:78.00px">Revision, Retrieval<br>&amp; Gap Filling</div>
<div class="l" style="left:577.00px;top:140.50px">Evaluating</div>
<div class="l" style="left:437.00px;top:186.50px">Unit 3</div>
<div class="l" style="left:580.00px;top:211.50px">Theatre<br>responsibilities</div>
<div class="l" style="left:409.00px;top:230.00px">Production<br>disciplines</div>
<div class="l" style="left:548.00px;top:276.70px">Unit 2</div>
<div class="l" style="left:392.00px;top:318.50px">Physical Theatre</div>
<div class="l" style="left:303.50px;top:317.00px">Exploring<br>the brief</div>
<div class="l b" style="left:105.00px;top:226.00px">End of<br>Year 10 PA</div>
<div class="l" style="left:32.00px;top:229.50px">Unit 2<br>Mock</div>
<div class="l" style="left:42.30px;top:245.50px;text-align:left;transform-origin:0 50%">Theatrical<br>techniques</div>
<div class="l" style="left:75.00px;top:334.50px">Rehearsal&nbsp; techniques</div>
<div class="l" style="left:-55.00px;top:399.00px">Evaluating</div>
<div class="l" style="left:33.00px;top:365.50px">Unit 1</div>
<div class="l" style="left:83.00px;top:451.50px">Rehearsal<br>Plans</div>
<div class="l" style="left:127.50px;top:366.50px">Intentions</div>
<div class="l" style="left:179.00px;top:452.50px">Target Audience</div>
<div class="l" style="left:237.00px;top:366.50px">Structure</div>
<div class="l" style="left:296.50px;top:366.50px">Staging</div>
<div class="l" style="left:354.50px;top:451.00px">Genre/Styles</div>
<div class="l" style="left:421.50px;top:372.50px">Character Building</div>
<div class="l" style="left:454.00px;top:452.50px">Styles</div>
<div class="l" style="left:574.50px;top:436.00px">Practitioners</div>
<div class="l b" style="left:423.50px;top:491.50px">End of Year 9<br>Drama Exam</div>
<div class="l" style="left:380.50px;top:583.50px">Physical<br>Theatre</div>
<div class="l" style="left:314.50px;top:497.50px">Character depth</div>
<div class="l" style="left:259.50px;top:583.50px">Performance<br>meaning</div>
<div class="l" style="left:196.00px;top:480.50px">Exploring<br>stimuli</div>
<div class="l" style="left:142.50px;top:583.00px">Stimulus Workshops</div>
<div class="l" style="left:56.50px;top:502.50px">Naturalism</div>
<div class="l" style="left:-61.00px;top:547.00px">Epic<br>Theatre</div>
<div class="l" style="left:72.50px;top:601.00px">Theatre of<br>Cruelty</div>
<div class="l" style="left:-55.00px;top:662.00px">Stage<br>Types</div>
<div class="l" style="left:53.50px;top:730.00px">Team<br>Building</div>
<div class="l b" style="left:227.50px;top:625.00px">End of Year 8<br>PA Exam</div>
<div class="l" style="left:321.75px;top:634.50px">Commedia Del’Arte</div>
<div class="l" style="left:391.50px;top:718.00px">Status</div>
<div class="l" style="left:444.80px;top:630.00px;transform:scaleX(0.98)">Roles in the industry</div>
<div class="l" style="left:582.00px;top:675.50px;transform:scaleX(1.0)">Monologues</div>
<div class="l" style="left:575.00px;top:714.00px">Drama<br>techniques<br>(advanced)</div>
<div class="l" style="left:577.00px;top:799.50px">Improvisation</div>
<div class="l" style="left:444.50px;top:750.50px">Atmosphere &amp;<br>Tension</div>
<div class="l" style="left:398.00px;top:854.00px">Soundscapes</div>
<div class="l" style="left:327.50px;top:757.50px">Scornbury<br>Manor</div>
<div class="l b" style="left:185.00px;top:856.80px;transform:scaleX(0.975)">End of Year 7<br>PA Exam</div>
<div class="l" style="left:124.00px;top:772.00px">Blocking</div>
<div class="l" style="left:-0.50px;top:779.00px">Characterisation</div>
<div class="l" style="left:-57.00px;top:906.50px">Theatrical<br>techniques<br>(Basic)</div>
<div class="l" style="left:49.70px;top:886.20px">Acting skills<br>(Basic)</div>
<div class="l" style="left:70.00px;top:990.00px">The Terrible Fate of<br>Humpty Dumpty</div>
<div class="l" style="left:168.00px;top:902.50px">Collaboration</div>
<div class="l" style="left:217.50px;top:989.50px">Confidence</div>
<div class="l" style="left:288.00px;top:910.50px">Communication</div>
<div class="l b" style="left:323.50px;top:988.00px">Introduction to<br>Performing Arts</div>
<div class="l b" style="left:489.00px;top:989.00px">Visit Arena Academy PA<br>Department</div>
<div class="l b" style="left:509.00px;top:881.00px">Year 6 SATs</div>
<div class="yr" style="left:274.0px;top:250.40000000000003px">YEAR</div><div class="yn" style="left:275.0px;top:261.6px;transform:scaleX(1.0)">11</div>
<div class="yr" style="left:575.7px;top:490.40000000000003px">YEAR</div><div class="yn" style="left:576.7px;top:501.6px;transform:scaleX(0.92)">10</div>
<div class="yr" style="left:200.4px;top:655.4px">YEAR</div><div class="yn" style="left:201.4px;top:666.6px;transform:scaleX(1.0)">9</div>
<div class="yr" style="left:302.2px;top:783.5px">YEAR</div><div class="yn" style="left:303.2px;top:794.7px;transform:scaleX(1.0)">8</div>
<div class="yr" style="left:456.4px;top:925.5999999999999px">YEAR</div><div class="yn" style="left:457.4px;top:936.8px;transform:scaleX(1.08)">7</div>
</body></html>
